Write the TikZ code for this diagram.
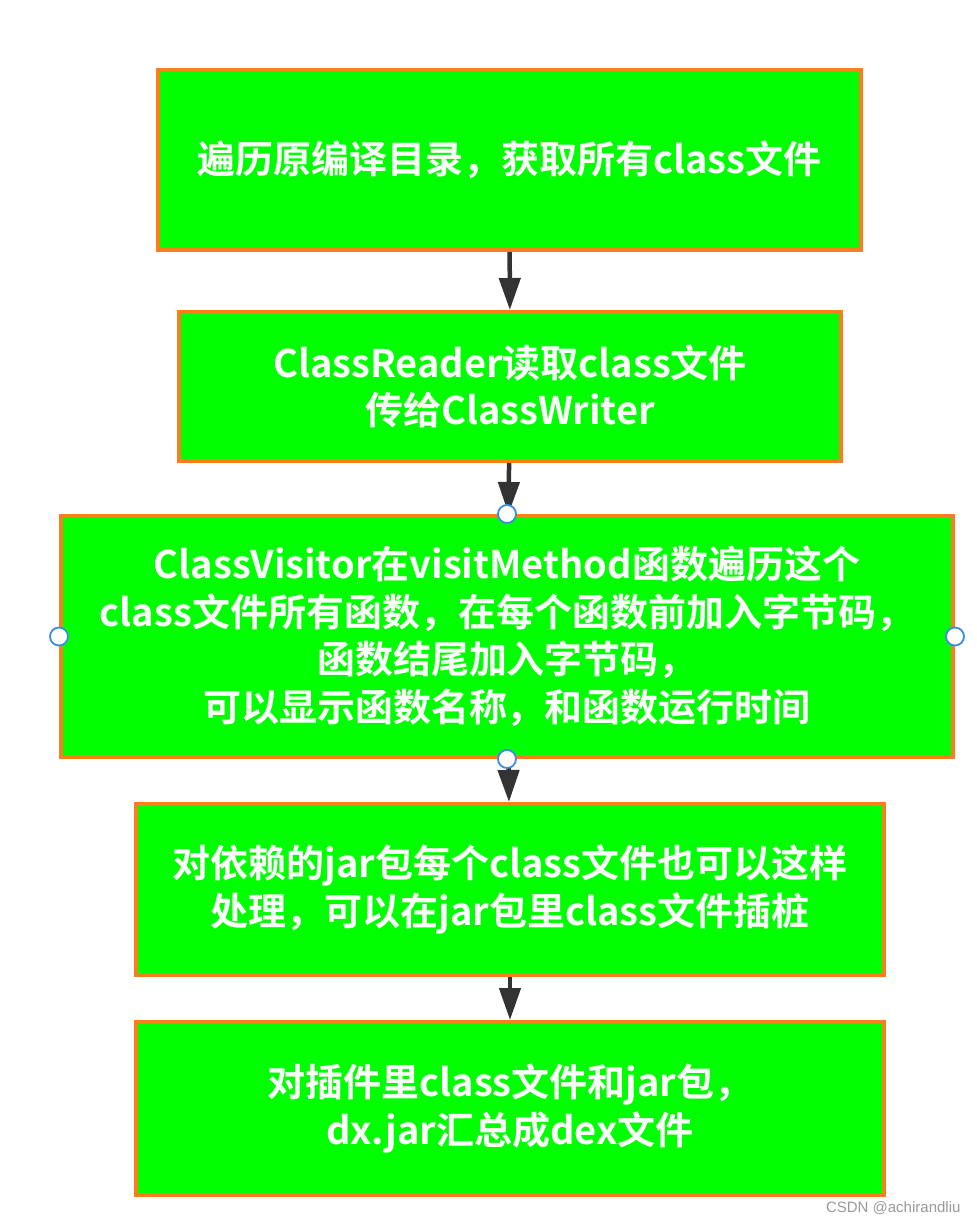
\documentclass[tikz,border=0pt]{standalone}
\usepackage{fontspec}
\usepackage{xcolor}
\usetikzlibrary{arrows.meta, positioning}
\newfontfamily\cjk{Noto Sans CJK SC}[BoldFont={Noto Sans CJK SC Bold}]
\newfontfamily\wmfont{Liberation Sans}
\definecolor{boxgreen}{RGB}{0,255,0}
\definecolor{boxorange}{RGB}{250,125,30}
\definecolor{arrgray}{RGB}{51,51,51}
\definecolor{hdlblue}{RGB}{60,140,230}
\tikzset{
  % flow arrow style
  garr/.style={
    draw=arrgray,
    line width = 4.5pt,
    -{Triangle[length=32pt,width=21pt]}
  },
}

\begin{document}
\begin{tikzpicture}
          [x=1pt, y=-1pt,
           stepbox/.style={draw=boxorange, line width=4pt, fill=boxgreen,
                           text=white, align=center, inner sep=0pt,
                           font=\cjk\bfseries\fontsize{38}{47.5}\selectfont},
           hdl/.style={circle, draw=hdlblue, fill=white, line width=1.8pt,
                       minimum size=18pt, inner sep=0pt}
          ]
          \useasboundingbox[fill=white] (0,0) rectangle (977,1224);

          \node (s1) [stepbox
                     , minimum width=703pt, minimum height=180pt
                     ] at (509.5,160)
                     {遍历原编译目录，获取所有class文件};
          \node (s2) [stepbox
                     , minimum width=662pt, minimum height=149pt
                     ] at (510,386.5)
                     {ClassReader读取class文件\\传给ClassWriter};
          \node (s3) [stepbox
                     , minimum width=892pt, minimum height=241pt
                     ] at (507,636.5)
                     {ClassVisitor在visitMethod函数遍历这个\\
                      class文件所有函数，在每个函数前加入字节码，\\
                      函数结尾加入字节码，\\
                      可以显示函数名称，和函数运行时间};
          \node (s4) [stepbox
                     , minimum width=748pt, minimum height=171pt
                     ] at (510,889.5)
                     {对依赖的jar包每个class文件也可以这样\\
                      处理，可以在jar包里class文件插桩};
          \node (s5) [stepbox
                     , minimum width=748pt, minimum height=173pt
                     ] at (510,1108.5)
                     {对插件里class文件和jar包，\\dx.jar汇总成dex文件};

          \draw[garr] (s1) -- (s2);
          \draw[garr] (s2) -- (s3);
          \draw[garr] (s3) -- (s4);
          \draw[garr] (s4) -- (s5);

          % handles on the selected box
          \node (h3n) [hdl] at (s3.north) {};
          \node (h3s) [hdl] at (s3.south) {};
          \node (h3w) [hdl] at (s3.west) {};
          \node (h3e) [hdl] at (s3.east) {};

          \node (wm) [anchor=east, text=gray!80
                     , font=\wmfont\fontsize{15}{18}\selectfont
                     ] at (964,1208) {CSDN @achirandliu};
      \end{tikzpicture}
\end{document}
